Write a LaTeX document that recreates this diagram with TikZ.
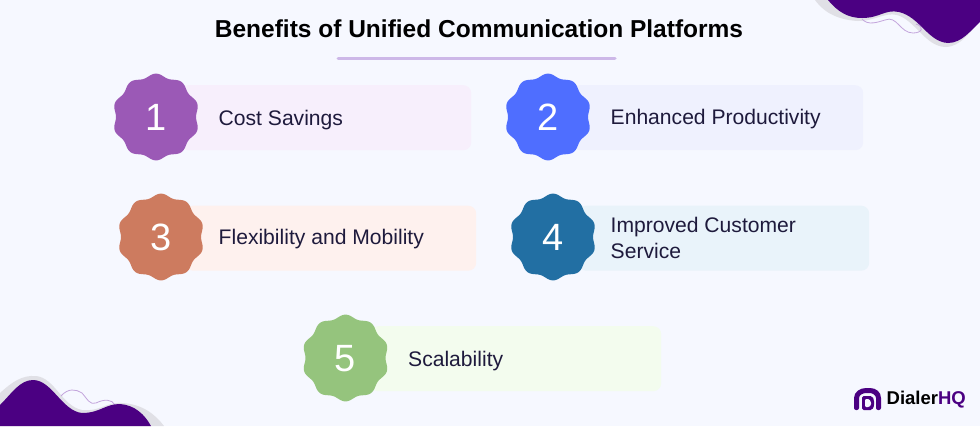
\documentclass[tikz,border=0pt]{standalone}
\usepackage{fontspec}
\setmainfont{Liberation Sans}
\definecolor{bgc}{HTML}{F6F8FF}
\definecolor{blob}{HTML}{4B0082}
\definecolor{blobsh}{HTML}{E0E0E6}
\definecolor{wave}{HTML}{C3A5DC}
\definecolor{rulec}{HTML}{CDB8E8}
\definecolor{ink}{HTML}{1E1A3C}
\definecolor{bA}{HTML}{9B59B6}\definecolor{cA}{HTML}{F7EFFC}
\definecolor{bB}{HTML}{4F6EFF}\definecolor{cB}{HTML}{EFF1FE}
\definecolor{bC}{HTML}{CD7B5F}\definecolor{cC}{HTML}{FEF1EE}
\definecolor{bD}{HTML}{226FA3}\definecolor{cD}{HTML}{E9F3FA}
\definecolor{bE}{HTML}{95C47D}\definecolor{cE}{HTML}{F3FCEE}
\tikzset{
  cardbox/.style={rounded corners=8pt,inner sep=0pt,anchor=north west},
  numtext/.style={text=white,font=\fontsize{38}{38}\selectfont,inner sep=0pt},
  labeltext/.style={text=ink,font=\fontsize{21.1}{26}\selectfont,anchor=west,inner sep=0pt,align=left},
}
\newcommand{\benefit}[8]{% name, badge x, badge y, badge col, card col, card x, card y, number
  \node[cardbox,fill=#5,minimum width=291pt,minimum height=65pt] (card#1) at (#6,#7) {};
  \fill[#4] plot[domain=0:360,samples=180,smooth,variable=\t] ({#2+(41.7+1.7*cos(10*(\t-90)))*cos(\t)},{#3+(41.7+1.7*cos(10*(\t-90)))*sin(\t)}) -- cycle;
  \node[numtext] (num#1) at (#2,#3+0.5) {#8};
}
\begin{document}
\begin{tikzpicture}[x=1pt,y=-1pt]
\useasboundingbox (0,0) rectangle (980,426);
\fill[bgc] (0,0) rectangle (980,426);
% top right blob
\fill[blobsh] (815,0) .. controls (825,14) and (840,20) .. (858,21) .. controls (875,21) and (885,12) .. (897,15) .. controls (915,20) and (925,46) .. (945,47) .. controls (962,47) and (970,30) .. (980,22) -- (980,0) -- cycle;
\draw[wave,line width=0.8pt] (862,19) .. controls (868,26) and (878,22) .. (885,20) .. controls (897,15) and (900,33) .. (913,33) .. controls (922,33) and (925,27) .. (916,24);
\fill[blob] (828,0) .. controls (838,12) and (848,18) .. (862,18) .. controls (880,18) and (885,9) .. (899,12) .. controls (920,17) and (928,42) .. (948,43) .. controls (962,43) and (971,30) .. (980,22) -- (980,0) -- cycle;
% bottom left blob
\fill[blobsh] (0,393) .. controls (12,382) and (22,375) .. (36,376) .. controls (55,378) and (62,406) .. (82,410) .. controls (100,412) and (105,402) .. (122,403) .. controls (142,404) and (155,414) .. (164,426) -- (0,426) -- cycle;
\draw[wave,line width=0.8pt] (61,396) .. controls (68,388) and (76,389) .. (82,393) .. controls (88,400) and (90,405) .. (96,403) .. controls (104,399) and (112,399) .. (115,405);
\fill[blob] (0,405) .. controls (12,393) and (20,380) .. (33,380) .. controls (52,380) and (62,411) .. (82,413) .. controls (100,413) and (105,404) .. (120,404) .. controls (135,405) and (145,415) .. (151,426) -- (0,426) -- cycle;
% title
\node[font=\fontsize{24.5}{28}\selectfont\bfseries,text=black,inner sep=0pt] (title) at (479,29) {Benefits of Unified Communication Platforms};
\draw[rulec,line width=3pt,line cap=round] (338,58) -- (615,58);
% cards
\benefit{a}{156}{117}{bA}{cA}{180}{85}{1}
\benefit{b}{548}{117}{bB}{cB}{572}{85}{2}
\benefit{c}{161}{237}{bC}{cC}{185}{205.5}{3}
\benefit{d}{553}{237}{bD}{cD}{578}{205.5}{4}
\benefit{e}{345.5}{358}{bE}{cE}{370}{326}{5}
\node[labeltext] (labela) at (218.5,120) {Cost Savings};
\node[labeltext] (labelb) at (610.5,119) {Enhanced Productivity};
\node[labeltext] (labelc) at (218.5,239.5) {Flexibility and Mobility};
\node[labeltext] (labeld) at (610.5,238) {Improved Customer\\Service};
\node[labeltext] (labele) at (408,361) {Scalability};
% logo
\fill[blob,rounded corners=2pt] (854,410) -- (854,400) .. controls (854,392) and (860,388) .. (868,388) .. controls (876,388) and (881,392) .. (881,400) -- (881,410) -- (876,410) -- (876,400) .. controls (876,395) and (872,393) .. (868,393) .. controls (863,393) and (859,395) .. (859,400) -- (859,410) -- cycle;
\fill[blob,rounded corners=1.5pt] (862,396) -- (869,396) .. controls (873,396) and (874,399) .. (874,403) .. controls (874,408) and (872,410) .. (869,410) -- (862,410) -- cycle;
\fill[bgc,rounded corners=1pt] (865,399) -- (869,399) -- (871,402) -- (871,405) -- (869,407) -- (865,407) -- cycle;
\node[font=\fontsize{18.5}{24}\selectfont\bfseries,anchor=west,inner sep=0pt,text=black] (logotext) at (886.5,400) {Dialer\textcolor{blob}{HQ}};
\end{tikzpicture}
\end{document}
